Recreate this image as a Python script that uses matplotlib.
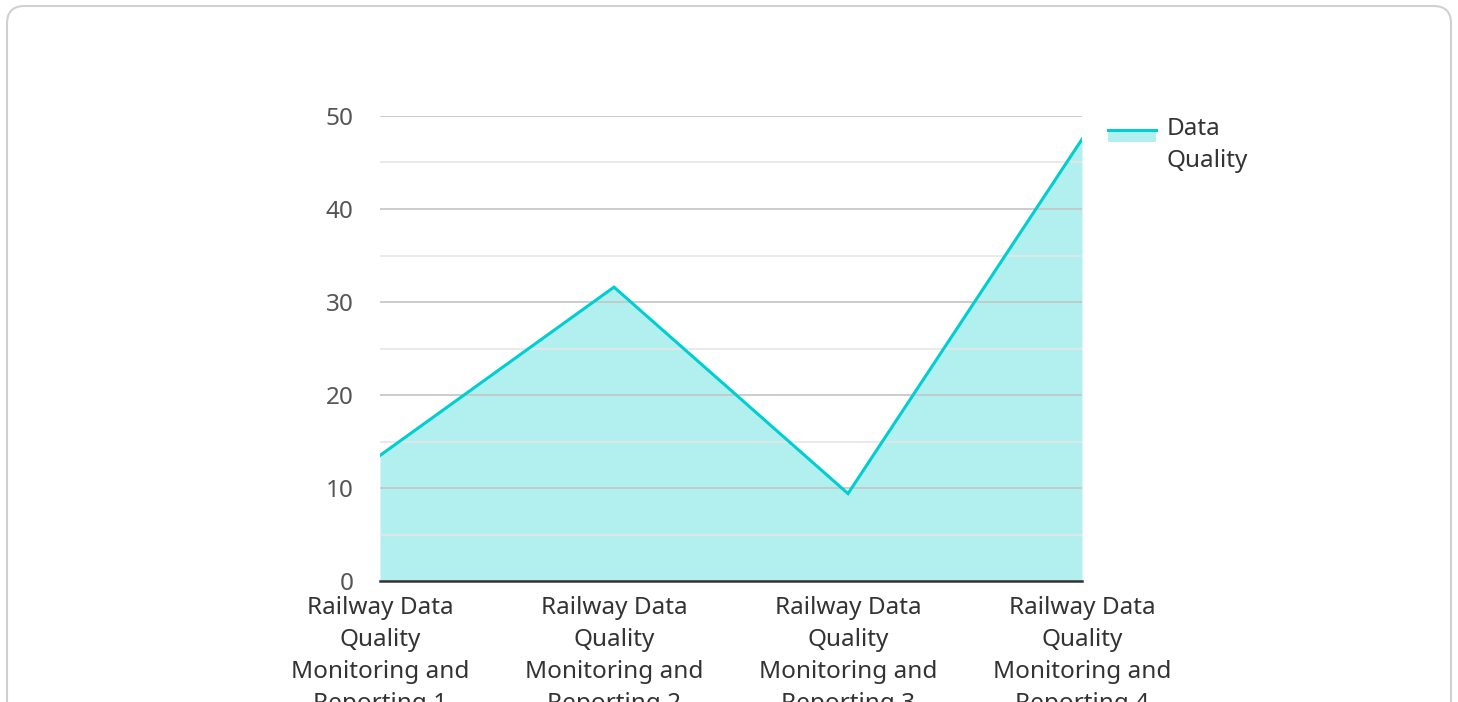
import matplotlib
matplotlib.use("Agg")
import matplotlib.pyplot as plt
from matplotlib.patches import FancyBboxPatch, Rectangle
from matplotlib.lines import Line2D
from matplotlib.legend_handler import HandlerBase
from matplotlib.ticker import MultipleLocator

plt.rcParams['font.family'] = ['Noto Sans', 'DejaVu Sans']

categories = [
    "Railway Data\nQuality\nMonitoring and\nReporting 1",
    "Railway Data\nQuality\nMonitoring and\nReporting 2",
    "Railway Data\nQuality\nMonitoring and\nReporting 3",
    "Railway Data\nQuality\nMonitoring and\nReporting 4",
]
values = [13.5, 31.6, 9.4, 47.5]
series_name = "Data\nQuality"

line_color = "#00CED1"
fill_color = "#B2EFEF"
fs = 17.5


class AreaHandler(HandlerBase):
    # line level with the first text line, light fill beneath it
    def create_artists(self, legend, orig_handle, xdescent, ydescent,
                       width, height, fontsize, trans):
        ly = height / 2 + 0.68 * fontsize - ydescent
        fh = 0.5 * fontsize
        rect = Rectangle((-xdescent, ly - fh), width, fh, facecolor=fill_color,
                         edgecolor="none", transform=trans)
        ln = Line2D([-xdescent, -xdescent + width], [ly, ly],
                    color=line_color, lw=2.2, transform=trans)
        return [rect, ln]


fig = plt.figure(figsize=(14.58, 7.02), dpi=100)

card = FancyBboxPatch((7 / 1458, -0.05), 1444 / 1458, 1.05 - 6 / 702,
                      boxstyle="round,pad=0,rounding_size=0.012",
                      transform=fig.transFigure, facecolor="white",
                      edgecolor="#d0d0d0", lw=1.5, mutation_aspect=1458 / 702,
                      zorder=-10)
fig.patches.append(card)

ax = fig.add_axes([380 / 1458, 1 - 581 / 702, 702 / 1458, 465 / 702])
ax.set_zorder(1)
ax.patch.set_alpha(0)

x = list(range(len(categories)))
ax.fill_between(x, values, 0, color=fill_color, lw=0, zorder=1)
ax.plot(x, values, color=line_color, lw=2.2, zorder=3, solid_joinstyle="miter")

ax.set_xlim(0, len(categories) - 1)
ax.set_ylim(0, 50)
ax.set_xticks(x)
ax.set_xticklabels(categories, fontsize=fs, color="#333333", linespacing=1.44)
ax.yaxis.set_major_locator(MultipleLocator(10))
ax.yaxis.set_minor_locator(MultipleLocator(5))
ax.tick_params(axis="y", labelsize=fs, labelcolor="#555555", length=0, pad=19)
ax.tick_params(axis="y", which="minor", length=0)
ax.tick_params(axis="x", length=0, pad=11)

ax.set_axisbelow("line")
ax.grid(axis="y", which="major", color="#c4c4c4", lw=1.2, zorder=2)
ax.grid(axis="y", which="minor", color="#e6e6e6", lw=1.2, zorder=2)
for side in ["left", "right", "top"]:
    ax.spines[side].set_visible(False)
ax.spines["bottom"].set_color("#333333")
ax.spines["bottom"].set_linewidth(1.8)

proxy = Rectangle((0, 0), 1, 1)
leg = ax.legend([proxy], [series_name], handler_map={Rectangle: AreaHandler()},
                loc="upper left", bbox_to_anchor=(1.037, 0.997), frameon=False,
                borderpad=0, borderaxespad=0,
                fontsize=fs, handlelength=1.97, handleheight=1.0, handletextpad=0.45)
for t in leg.get_texts():
    t.set_color("#333333")
    t.set_linespacing(1.44)

fig.savefig("out.png", dpi=100)
plt.close(fig)
